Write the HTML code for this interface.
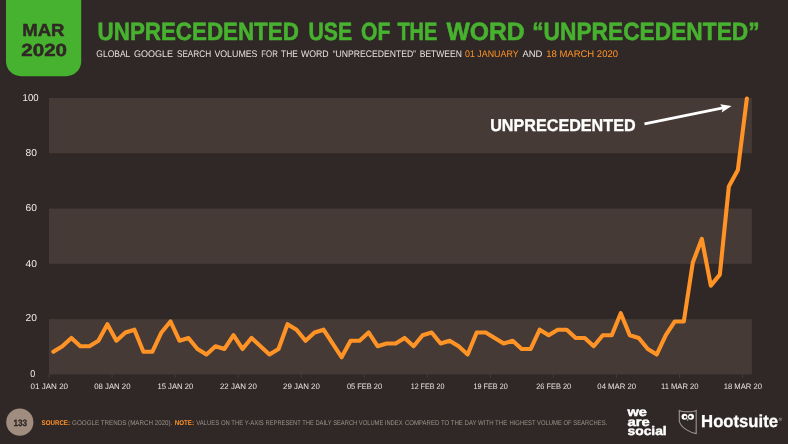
<!DOCTYPE html>
<html lang="en"><head><meta charset="utf-8"><title>Unprecedented use of the word "unprecedented"</title>
<style>
html,body{margin:0;padding:0;background:#302826;}
body{width:788px;height:444px;overflow:hidden;font-family:"Liberation Sans",sans-serif;}
svg{display:block}
text{font-family:"Liberation Sans",sans-serif;text-rendering:geometricPrecision;}
</style></head><body>
<svg width="788" height="444" viewBox="0 0 788 444">
<rect width="788" height="444" fill="#302826"/>

<rect x="49.0" y="98.00" width="702.90" height="55.28" fill="#453A36"/>
<rect x="49.0" y="208.56" width="702.90" height="55.28" fill="#453A36"/>
<rect x="49.0" y="319.12" width="702.90" height="55.28" fill="#453A36"/>
<rect x="48.55" y="374.40" width="0.9" height="3.3" fill="#4a3f3b"/>
<rect x="111.60" y="374.40" width="0.9" height="3.3" fill="#4a3f3b"/>
<rect x="174.64" y="374.40" width="0.9" height="3.3" fill="#4a3f3b"/>
<rect x="237.69" y="374.40" width="0.9" height="3.3" fill="#4a3f3b"/>
<rect x="300.73" y="374.40" width="0.9" height="3.3" fill="#4a3f3b"/>
<rect x="363.78" y="374.40" width="0.9" height="3.3" fill="#4a3f3b"/>
<rect x="426.82" y="374.40" width="0.9" height="3.3" fill="#4a3f3b"/>
<rect x="489.87" y="374.40" width="0.9" height="3.3" fill="#4a3f3b"/>
<rect x="552.91" y="374.40" width="0.9" height="3.3" fill="#4a3f3b"/>
<rect x="615.96" y="374.40" width="0.9" height="3.3" fill="#4a3f3b"/>
<rect x="679.00" y="374.40" width="0.9" height="3.3" fill="#4a3f3b"/>
<rect x="742.05" y="374.40" width="0.9" height="3.3" fill="#4a3f3b"/>
<path d="M6 0H81.2V61.2a15 15 0 0 1-15 15H21A15 15 0 0 1 6 61.2Z" fill="#47B22F"/>
<text x="22.3" y="35.5" font-size="17.5" font-weight="700" fill="#302826" stroke="#302826" stroke-width="0.5" textLength="42.2" lengthAdjust="spacingAndGlyphs">MAR</text>
<text x="21.3" y="56.3" font-size="17.5" font-weight="700" fill="#302826" stroke="#302826" stroke-width="0.5" textLength="45.7" lengthAdjust="spacingAndGlyphs">2020</text>
<text x="97.6" y="40.1" font-size="25" font-weight="700" fill="#47B22F" textLength="201.2" lengthAdjust="spacingAndGlyphs" stroke="#47B22F" stroke-width="0.6" stroke-linejoin="round">UNPRECEDENTED</text>
<text x="308.6" y="40.1" font-size="25" font-weight="700" fill="#47B22F" textLength="43.5" lengthAdjust="spacingAndGlyphs" stroke="#47B22F" stroke-width="0.6" stroke-linejoin="round">USE</text>
<text x="361" y="40.1" font-size="25" font-weight="700" fill="#47B22F" textLength="29.3" lengthAdjust="spacingAndGlyphs" stroke="#47B22F" stroke-width="0.6" stroke-linejoin="round">OF</text>
<text x="397.4" y="40.1" font-size="25" font-weight="700" fill="#47B22F" textLength="40.0" lengthAdjust="spacingAndGlyphs" stroke="#47B22F" stroke-width="0.6" stroke-linejoin="round">THE</text>
<text x="446.4" y="40.1" font-size="25" font-weight="700" fill="#47B22F" textLength="78.2" lengthAdjust="spacingAndGlyphs" stroke="#47B22F" stroke-width="0.6" stroke-linejoin="round">WORD</text>
<text x="532.2" y="40.1" font-size="25" font-weight="700" fill="#47B22F" textLength="227.4" lengthAdjust="spacingAndGlyphs" stroke="#47B22F" stroke-width="0.6" stroke-linejoin="round">“UNPRECEDENTED”</text>
<text x="96.3" y="56.9" font-size="9.5" fill="#e6e2e0" textLength="34.0" lengthAdjust="spacingAndGlyphs">GLOBAL</text>
<text x="134.1" y="56.9" font-size="9.5" fill="#e6e2e0" textLength="39.0" lengthAdjust="spacingAndGlyphs">GOOGLE</text>
<text x="176.9" y="56.9" font-size="9.5" fill="#e6e2e0" textLength="34.3" lengthAdjust="spacingAndGlyphs">SEARCH</text>
<text x="214.4" y="56.9" font-size="9.5" fill="#e6e2e0" textLength="43.1" lengthAdjust="spacingAndGlyphs">VOLUMES</text>
<text x="261.3" y="56.9" font-size="9.5" fill="#e6e2e0" textLength="16.5" lengthAdjust="spacingAndGlyphs">FOR</text>
<text x="281" y="56.9" font-size="9.5" fill="#e6e2e0" textLength="16.8" lengthAdjust="spacingAndGlyphs">THE</text>
<text x="301" y="56.9" font-size="9.5" fill="#e6e2e0" textLength="27.6" lengthAdjust="spacingAndGlyphs">WORD</text>
<text x="332.7" y="56.9" font-size="9.5" fill="#e6e2e0" textLength="83.3" lengthAdjust="spacingAndGlyphs">“UNPRECEDENTED”</text>
<text x="419.7" y="56.9" font-size="9.5" fill="#e6e2e0" textLength="42.2" lengthAdjust="spacingAndGlyphs">BETWEEN</text>
<text x="465" y="56.9" font-size="9.5" fill="#FF9326" textLength="53.6" lengthAdjust="spacingAndGlyphs">01 JANUARY</text>
<text x="522.5" y="56.9" font-size="9.5" fill="#e6e2e0" textLength="19.9" lengthAdjust="spacingAndGlyphs">AND</text>
<text x="546.2" y="56.9" font-size="9.5" fill="#FF9326" textLength="71.8" lengthAdjust="spacingAndGlyphs">18 MARCH 2020</text>
<text x="22.6" y="100.50" font-size="10" fill="#efecea" textLength="15.9" lengthAdjust="spacingAndGlyphs">100</text>
<text x="25.6" y="156.08" font-size="10" fill="#efecea" textLength="11.4" lengthAdjust="spacingAndGlyphs">80</text>
<text x="25.6" y="211.26" font-size="10" fill="#efecea" textLength="11.4" lengthAdjust="spacingAndGlyphs">60</text>
<text x="25.6" y="266.64" font-size="10" fill="#efecea" textLength="11.4" lengthAdjust="spacingAndGlyphs">40</text>
<text x="25.6" y="321.42" font-size="10" fill="#efecea" textLength="11.4" lengthAdjust="spacingAndGlyphs">20</text>
<text x="30.200000000000003" y="377.10" font-size="10" fill="#efecea" textLength="5.0" lengthAdjust="spacingAndGlyphs">0</text>
<text x="30.50" y="389.3" font-size="7.9" fill="#e8e4e2" textLength="37.6" lengthAdjust="spacingAndGlyphs">01 JAN 20</text>
<text x="94.20" y="389.3" font-size="7.9" fill="#e8e4e2" textLength="36.3" lengthAdjust="spacingAndGlyphs">08 JAN 20</text>
<text x="157.44" y="389.3" font-size="7.9" fill="#e8e4e2" textLength="35.9" lengthAdjust="spacingAndGlyphs">15 JAN 20</text>
<text x="219.94" y="389.3" font-size="7.9" fill="#e8e4e2" textLength="37" lengthAdjust="spacingAndGlyphs">22 JAN 20</text>
<text x="283.08" y="389.3" font-size="7.9" fill="#e8e4e2" textLength="36.8" lengthAdjust="spacingAndGlyphs">29 JAN 20</text>
<text x="346.88" y="389.3" font-size="7.9" fill="#e8e4e2" textLength="35.3" lengthAdjust="spacingAndGlyphs">05 FEB 20</text>
<text x="410.67" y="389.3" font-size="7.9" fill="#e8e4e2" textLength="33.8" lengthAdjust="spacingAndGlyphs">12 FEB 20</text>
<text x="473.52" y="389.3" font-size="7.9" fill="#e8e4e2" textLength="34.2" lengthAdjust="spacingAndGlyphs">19 FEB 20</text>
<text x="536.16" y="389.3" font-size="7.9" fill="#e8e4e2" textLength="35" lengthAdjust="spacingAndGlyphs">26 FEB 20</text>
<text x="597.36" y="389.3" font-size="7.9" fill="#e8e4e2" textLength="38.7" lengthAdjust="spacingAndGlyphs">04 MAR 20</text>
<text x="660.96" y="389.3" font-size="7.9" fill="#e8e4e2" textLength="37.6" lengthAdjust="spacingAndGlyphs">11 MAR 20</text>
<text x="723.65" y="389.3" font-size="7.9" fill="#e8e4e2" textLength="38.3" lengthAdjust="spacingAndGlyphs">18 MAR 20</text>
<polyline points="53.35,351.73 62.36,346.22 71.37,337.96 80.37,346.22 89.38,346.22 98.39,340.71 107.39,324.20 116.40,340.71 125.41,332.45 134.41,329.70 143.42,351.73 152.42,351.73 161.43,332.45 170.44,321.44 179.44,340.71 188.45,337.96 197.46,348.97 206.46,354.48 215.47,346.22 224.48,348.97 233.48,335.21 242.49,348.97 251.50,337.96 260.50,346.22 269.51,354.48 278.52,348.97 287.52,324.20 296.53,329.70 305.54,340.71 314.54,332.45 323.55,329.70 332.55,343.47 341.56,357.23 350.57,340.71 359.57,340.71 368.58,332.45 377.59,346.22 386.59,343.47 395.60,343.47 404.61,337.96 413.61,346.22 422.62,335.21 431.63,332.45 440.63,343.47 449.64,340.71 458.65,346.22 467.65,354.48 476.66,332.45 485.67,332.45 494.67,337.96 503.68,343.47 512.68,340.71 521.69,348.97 530.70,348.97 539.70,329.70 548.71,335.21 557.72,329.70 566.72,329.70 575.73,337.96 584.74,337.96 593.74,346.22 602.75,335.21 611.76,335.21 620.76,313.18 629.77,335.21 638.78,337.96 647.78,348.97 656.79,354.48 665.80,335.21 674.80,321.44 683.81,321.44 692.81,262.53 701.82,238.85 710.83,285.65 719.83,274.64 728.84,186.55 737.85,170.03 746.85,98.45" fill="none" stroke="#FF9326" stroke-width="4.1" stroke-linejoin="round" stroke-linecap="round"/>
<text x="490.2" y="130.5" font-size="17" font-weight="700" fill="#ffffff" stroke="#ffffff" stroke-width="0.35" textLength="145.4" lengthAdjust="spacingAndGlyphs">UNPRECEDENTED</text>
<line x1="644.5" y1="123.9" x2="723" y2="107.9" stroke="#ffffff" stroke-width="2.8" stroke-linecap="butt"/>
<path d="M731.6 106.1L721.7 112.4L722.8 108.2L720.2 104.2Z" fill="#ffffff"/>
<circle cx="19.8" cy="422.15" r="13.6" fill="#A08D80"/>
<text x="13.4" y="425.7" font-size="9.2" font-weight="700" fill="#302826" stroke="#302826" stroke-width="0.3" textLength="13.7" lengthAdjust="spacingAndGlyphs">133</text>
<text x="41.6" y="424.9" font-size="6.9" font-weight="700" fill="#FF9326" textLength="28.4" lengthAdjust="spacingAndGlyphs">SOURCE:</text>
<text x="72.1" y="424.9" font-size="6.8" fill="#9c918a" textLength="100.3" lengthAdjust="spacingAndGlyphs">GOOGLE TRENDS (MARCH 2020).</text>
<text x="174.7" y="424.9" font-size="6.9" font-weight="700" fill="#FF9326" textLength="19.3" lengthAdjust="spacingAndGlyphs">NOTE:</text>
<text x="196.2" y="424.9" font-size="6.8" fill="#9c918a" textLength="67.6" lengthAdjust="spacingAndGlyphs">VALUES ON THE Y-AXIS</text>
<text x="265.5" y="424.9" font-size="6.8" fill="#9c918a" textLength="137.0" lengthAdjust="spacingAndGlyphs">REPRESENT THE DAILY SEARCH VOLUME INDEX</text>
<text x="404.9" y="424.9" font-size="6.8" fill="#9c918a" textLength="102.3" lengthAdjust="spacingAndGlyphs">COMPARED TO THE DAY WITH THE</text>
<text x="509.5" y="424.9" font-size="6.8" fill="#9c918a" textLength="97.7" lengthAdjust="spacingAndGlyphs">HIGHEST VOLUME OF SEARCHES.</text>
<text x="627.5" y="415.7" font-size="12.3" font-weight="700" fill="#ffffff" stroke="#ffffff" stroke-width="0.45" stroke-linejoin="round" textLength="19.4" lengthAdjust="spacingAndGlyphs">we</text>
<text x="627.5" y="425.8" font-size="12.3" font-weight="700" fill="#ffffff" stroke="#ffffff" stroke-width="0.45" stroke-linejoin="round" textLength="22.2" lengthAdjust="spacingAndGlyphs">are</text>
<text x="627.5" y="435.0" font-size="12.3" font-weight="700" fill="#ffffff" stroke="#ffffff" stroke-width="0.45" stroke-linejoin="round" textLength="39.2" lengthAdjust="spacingAndGlyphs">social</text>
<path d="M679.3 410.4Q683.5 412.4 687.75 411.5Q692 412.4 696.2 410.4V433.6C691 432.8 680.5 428 679.3 421Z" fill="none" stroke="#989290" stroke-width="1.15" stroke-linejoin="miter"/>
<circle cx="684.5" cy="416.8" r="3" fill="#ffffff"/><circle cx="691" cy="416.8" r="3" fill="#ffffff"/><circle cx="685.1" cy="417" r="1.25" fill="#302826"/><circle cx="690.4" cy="417" r="1.25" fill="#302826"/><path d="M686.9 419.4h1.7l-0.85 1.7z" fill="#ffffff"/>
<text x="701.1" y="426.8" font-size="17.4" font-weight="700" fill="#ffffff" stroke="#ffffff" stroke-width="0.3" textLength="76.9" lengthAdjust="spacingAndGlyphs">Hootsuite</text>
<text x="778.7" y="421.3" font-size="4.6" fill="#c8c4c2">®</text>
</svg></body></html>
